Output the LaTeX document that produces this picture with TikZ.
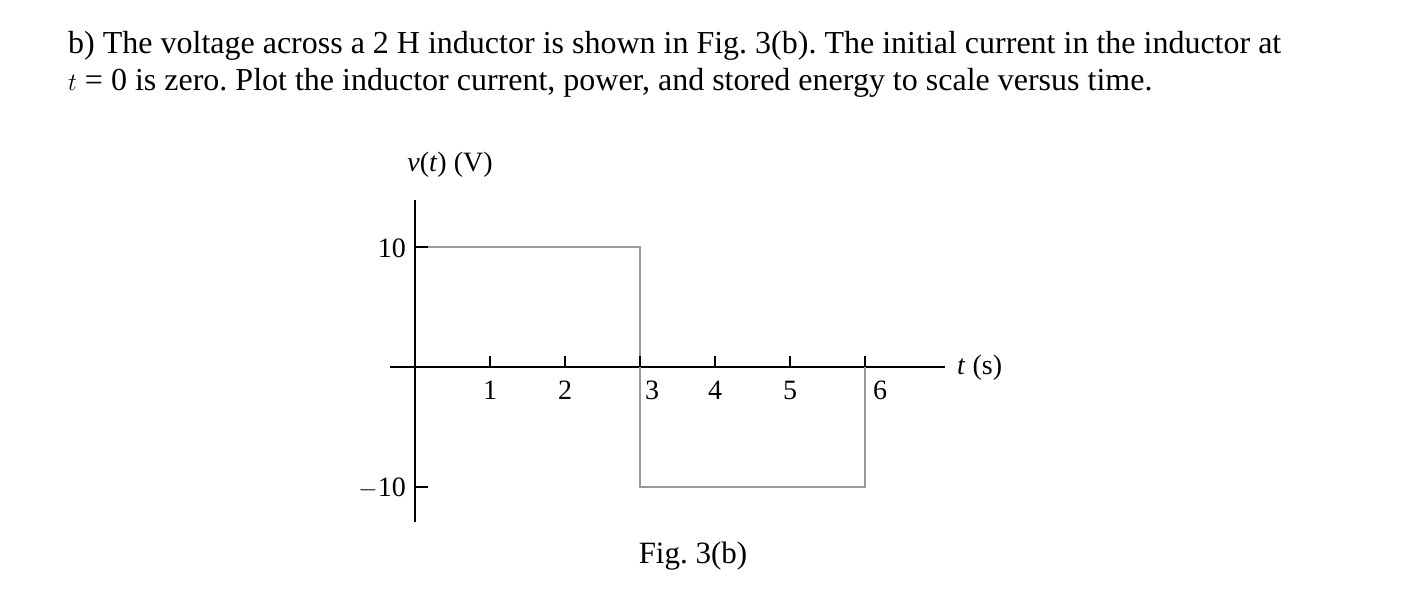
\documentclass[tikz,border=0pt]{standalone}
\usepackage{fontspec}
\setmainfont{Liberation Serif}
\begin{document}
\frenchspacing
\begin{tikzpicture}[x=1pt,y=-1pt,
  body/.style={font=\fontsize{32}{38}\selectfont, anchor=base west, inner sep=0},
  lab/.style={font=\fontsize{28}{32}\selectfont, inner sep=0},
  axis/.style={line width=1.2pt, black},
  wave/.style={line width=2pt, gray!80}]
\useasboundingbox (0,0) rectangle (1401,600);
\node[body] (l1) at (68,53) {b) The voltage across a 2 H inductor is shown in Fig. 3(b). The initial current in the inductor at};
\node[body] (l2) at (68,90) {$t$ = 0 is zero. Plot the inductor current, power, and stored energy to scale versus time.};
% axes
\coordinate (ytop) at (415,200);
\coordinate (ybot) at (415,522);
\coordinate (xl) at (390,367);
\coordinate (xr) at (945,367);
\draw[axis] (ybot) -- (ytop);
\draw[axis] (xl) -- (xr);
% waveform
\coordinate (a) at (415,247);
\coordinate (b) at (640,247);
\coordinate (c) at (640,487);
\coordinate (d) at (865,487);
\coordinate (e) at (865,367);
\draw[wave] (a) -- (b) -- (c) -- (d) -- (e);
% ticks
\foreach \i in {1,...,6} {\draw[axis] (415+75*\i,356) -- (415+75*\i,367);}
\draw[axis] (415,247) -- (428,247);
\draw[axis] (415,487) -- (428,487);
\node[lab] (t1) at (490,390) {1};
\node[lab] (t2) at (565,390) {2};
\node[lab] (t3) at (652,390) {3};
\node[lab] (t4) at (715,390) {4};
\node[lab] (t5) at (790,390) {5};
\node[lab] (t6) at (880,390) {6};
\node[lab, anchor=east] (v10) at (406,248) {10};
\node[lab, anchor=east] (vm10) at (406,488) {$-$10};
\node[lab, anchor=west] (tl) at (957,368) {\textit{t} (s)};
\node[lab] (vl) at (450,165) {\textit{v}(\textit{t}) (V)};
\node[font=\fontsize{31}{36}\selectfont, inner sep=0] (fig) at (693,556) {Fig. 3(b)};
\end{tikzpicture}
\end{document}
